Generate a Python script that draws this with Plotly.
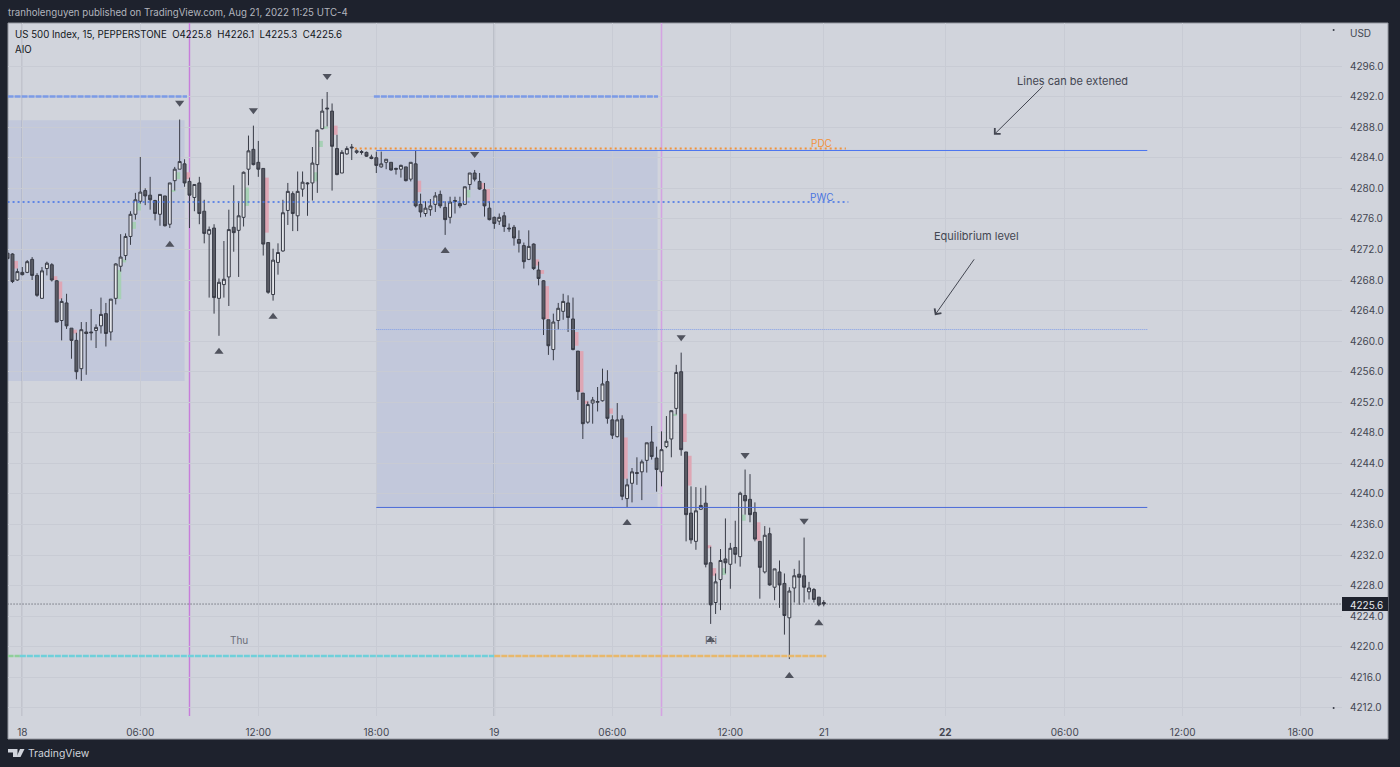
import plotly.graph_objects as go

# 15 minute bars, index 0 is the "18" tick
bar_index = list(range(-3, 164))

opens = [
    4271.5, 4271.4, 4268.0, 4269.0, 4269.0, 4270.7, 4268.6, 4265.6, 4269.5, 4270.0,
    4267.9, 4262.7, 4265.0, 4261.7, 4260.1, 4256.4, 4261.2, 4261.2, 4261.4, 4262.0,
    4263.6, 4261.2, 4265.6, 4269.8, 4271.2, 4273.7, 4276.6, 4278.3, 4279.7, 4279.1,
    4278.4, 4276.6, 4279.0, 4275.3, 4281.0, 4282.5, 4283.2, 4280.9, 4278.8, 4280.7,
    4277.0, 4274.0, 4274.8, 4265.6, 4267.4, 4268.4, 4274.9, 4274.5, 4276.2, 4282.5,
    4285.1, 4283.4, 4282.6, 4272.9, 4266.1, 4270.3, 4271.8, 4277.1, 4279.3, 4276.4,
    4279.9, 4280.7, 4280.7, 4283.1, 4287.8, 4290.5, 4290.1, 4285.2, 4282.0, 4284.5,
    4285.4, 4284.7, 4284.8, 4284.7, 4284.1, 4284.0, 4282.8, 4283.4, 4283.4, 4282.6,
    4282.5, 4282.8, 4281.2, 4283.2, 4277.9, 4276.7, 4277.2, 4277.9, 4279.2, 4277.5,
    4276.2, 4278.4, 4278.0, 4277.9, 4280.5, 4282.0, 4280.9, 4279.8, 4277.4, 4276.2,
    4275.7, 4276.4, 4274.8, 4274.9, 4273.3, 4272.5, 4270.7, 4272.7, 4269.3, 4267.9,
    4262.8, 4258.9, 4262.7, 4263.9, 4265.0, 4262.9, 4258.7, 4253.2, 4249.4, 4251.9,
    4252.0, 4252.2, 4254.7, 4249.7, 4247.5, 4249.8, 4239.4, 4241.4, 4242.8, 4242.9,
    4244.4, 4246.8, 4244.7, 4242.9, 4246.2, 4247.2, 4251.2, 4256.0, 4245.5, 4237.5,
    4233.8, 4238.0, 4238.8, 4231.0, 4225.8, 4228.8, 4231.5, 4230.8, 4233.0, 4231.8,
    4239.8, 4239.3, 4237.6, 4233.8, 4229.8, 4234.8, 4227.8, 4229.8, 4228.3, 4223.8,
    4227.7, 4229.5, 4229.3, 4227.2, 4227.5, 4226.5, 4225.8,
]
highs = [
    4271.6, 4271.5, 4269.5, 4269.7, 4270.6, 4271.0, 4268.9, 4269.7, 4270.4, 4270.2,
    4268.0, 4265.6, 4266.2, 4261.7, 4261.1, 4262.5, 4262.5, 4264.2, 4262.2, 4265.7,
    4265.0, 4265.5, 4270.2, 4274.0, 4274.1, 4277.0, 4279.4, 4284.1, 4280.0, 4281.5,
    4278.5, 4279.2, 4279.0, 4280.7, 4282.8, 4289.0, 4283.8, 4281.4, 4280.5, 4281.5,
    4278.5, 4275.0, 4275.3, 4268.2, 4273.1, 4277.2, 4280.4, 4278.3, 4282.2, 4286.9,
    4288.2, 4286.2, 4282.6, 4272.9, 4272.1, 4272.8, 4278.5, 4280.7, 4279.6, 4282.2,
    4282.2, 4280.8, 4285.4, 4287.7, 4291.7, 4292.6, 4291.1, 4287.0, 4285.0, 4285.5,
    4285.8, 4285.1, 4285.0, 4284.8, 4284.4, 4284.8, 4284.8, 4283.8, 4283.4, 4282.7,
    4283.1, 4282.8, 4283.4, 4284.9, 4279.3, 4278.3, 4278.6, 4279.5, 4279.7, 4278.3,
    4278.9, 4278.9, 4278.9, 4280.2, 4282.0, 4282.4, 4282.0, 4280.7, 4278.3, 4276.3,
    4276.7, 4276.9, 4275.4, 4275.2, 4274.5, 4272.9, 4274.5, 4272.8, 4270.4, 4268.0,
    4262.8, 4263.6, 4265.0, 4266.2, 4266.0, 4265.7, 4258.7, 4253.2, 4252.1, 4252.7,
    4254.0, 4256.4, 4256.2, 4250.3, 4251.9, 4250.3, 4242.0, 4243.4, 4244.8, 4244.5,
    4246.7, 4248.9, 4246.2, 4248.2, 4250.2, 4250.9, 4256.9, 4258.5, 4245.5, 4241.0,
    4240.9, 4240.8, 4241.1, 4233.1, 4229.6, 4232.8, 4236.8, 4233.6, 4236.5, 4240.3,
    4243.2, 4242.6, 4238.9, 4233.8, 4235.8, 4235.6, 4230.2, 4231.3, 4229.6, 4227.8,
    4230.2, 4231.3, 4234.3, 4228.5, 4227.7, 4226.5, 4226.1,
]
lows = [
    4270.7, 4267.6, 4267.9, 4268.6, 4268.9, 4268.0, 4265.8, 4265.6, 4268.6, 4267.8,
    4262.5, 4260.1, 4261.6, 4257.7, 4255.0, 4254.8, 4255.6, 4260.1, 4259.1, 4261.0,
    4259.3, 4260.1, 4264.8, 4269.1, 4270.6, 4272.6, 4275.9, 4278.0, 4277.8, 4277.2,
    4275.8, 4275.1, 4275.0, 4274.8, 4279.7, 4282.5, 4280.2, 4274.8, 4277.0, 4275.3,
    4272.8, 4265.7, 4263.6, 4260.7, 4265.7, 4264.6, 4271.7, 4268.4, 4275.0, 4280.4,
    4283.0, 4281.5, 4271.2, 4266.2, 4265.3, 4268.7, 4271.7, 4275.2, 4274.4, 4274.4,
    4278.9, 4276.4, 4278.4, 4279.4, 4287.7, 4288.1, 4279.7, 4281.7, 4282.0, 4284.4,
    4283.7, 4284.5, 4284.4, 4284.1, 4283.8, 4282.0, 4282.7, 4282.5, 4282.3, 4281.8,
    4281.4, 4280.9, 4280.9, 4277.5, 4276.2, 4276.3, 4276.4, 4276.9, 4277.4, 4273.9,
    4275.4, 4276.7, 4277.4, 4277.8, 4279.8, 4280.9, 4279.8, 4276.3, 4275.8, 4274.7,
    4275.2, 4274.3, 4274.3, 4272.5, 4271.6, 4269.5, 4270.6, 4269.3, 4267.3, 4260.8,
    4258.2, 4257.5, 4261.5, 4262.8, 4261.2, 4258.8, 4252.3, 4247.2, 4249.2, 4249.2,
    4250.8, 4252.1, 4249.2, 4247.2, 4247.4, 4239.2, 4238.3, 4238.9, 4241.2, 4239.2,
    4242.8, 4244.5, 4240.3, 4241.0, 4246.0, 4244.8, 4250.4, 4245.0, 4233.8, 4233.5,
    4232.7, 4237.9, 4230.4, 4223.0, 4224.3, 4224.8, 4229.6, 4227.6, 4230.9, 4230.5,
    4237.3, 4236.3, 4233.8, 4226.3, 4229.6, 4228.0, 4226.1, 4225.1, 4221.6, 4218.4,
    4225.8, 4225.5, 4225.8, 4226.2, 4225.8, 4225.3, 4225.3,
]
closes = [
    4270.8, 4267.8, 4269.1, 4268.7, 4270.4, 4268.6, 4266.0, 4269.2, 4270.2, 4268.0,
    4262.5, 4265.2, 4262.0, 4260.1, 4256.0, 4261.5, 4261.0, 4261.1, 4261.8, 4263.5,
    4261.0, 4265.5, 4270.1, 4271.0, 4273.7, 4276.6, 4278.5, 4279.5, 4279.0, 4278.5,
    4276.7, 4279.2, 4275.1, 4280.7, 4282.5, 4283.5, 4280.7, 4279.1, 4280.5, 4276.7,
    4274.1, 4274.6, 4265.7, 4267.7, 4268.1, 4274.6, 4274.2, 4276.4, 4282.1, 4284.9,
    4283.1, 4282.5, 4272.7, 4266.4, 4270.6, 4271.6, 4276.8, 4279.6, 4276.7, 4279.6,
    4280.8, 4280.6, 4283.3, 4287.6, 4290.1, 4290.4, 4285.5, 4281.8, 4284.7, 4285.2,
    4285.3, 4284.9, 4284.7, 4284.2, 4283.9, 4283.0, 4283.2, 4283.8, 4282.4, 4282.5,
    4283.0, 4281.0, 4283.4, 4277.7, 4276.9, 4277.4, 4277.7, 4279.0, 4277.7, 4275.9,
    4278.2, 4278.3, 4277.7, 4280.2, 4282.0, 4281.2, 4279.9, 4277.7, 4275.9, 4275.4,
    4276.2, 4275.0, 4274.7, 4273.5, 4272.8, 4270.4, 4272.4, 4269.5, 4268.2, 4262.9,
    4259.4, 4262.5, 4264.3, 4265.2, 4263.1, 4258.9, 4253.4, 4249.2, 4251.7, 4252.3,
    4252.1, 4254.4, 4249.9, 4247.7, 4249.7, 4239.7, 4241.2, 4242.9, 4242.7, 4244.2,
    4246.7, 4244.9, 4243.2, 4245.8, 4246.9, 4250.9, 4255.9, 4245.8, 4237.3, 4234.0,
    4237.8, 4238.5, 4230.8, 4225.5, 4228.5, 4231.3, 4231.0, 4232.9, 4232.1, 4240.1,
    4239.1, 4237.3, 4234.1, 4230.4, 4234.6, 4228.1, 4230.2, 4228.1, 4224.1, 4227.3,
    4229.3, 4229.1, 4227.8, 4227.7, 4226.2, 4225.5, 4225.6,
]

# imbalance blocks next to the candles
pink_start = [-2, 6, 7, 10, 33, 49, 63, 80, 93, 94, 104, 105, 106, 112, 113, 114, 119, 122, 134, 135, 139, 140, 149]
pink_low = [4269.5, 4268.0, 4265.5, 4261.0, 4281.2, 4274.2, 4287.0, 4279.5, 4279.9, 4278.3, 4269.9, 4268.8, 4262.9,
            4259.4, 4253.3, 4251.8, 4250.5, 4242.0, 4246.8, 4241.1, 4232.9, 4229.3, 4233.9]
pink_high = [4270.5, 4268.5, 4267.8, 4261.5, 4282.1, 4281.4, 4288.2, 4281.0, 4280.7, 4279.9, 4270.7, 4269.3, 4267.2,
             4261.2, 4258.7, 4252.2, 4251.2, 4247.4, 4250.5, 4245.0, 4233.3, 4230.3, 4236.3]
green_start = [19, 20, 22, 23, 30, 31, 45, 59, 60, 61, 90, 132, 142, 146]
green_low = [4265.5, 4270.3, 4274.7, 4277.1, 4279.6, 4281.2, 4277.7, 4280.9, 4285.4, 4287.8, 4278.8, 4250.2, 4229.4, 4236.5]
green_high = [4269.3, 4270.7, 4275.6, 4278.1, 4279.8, 4282.1, 4280.1, 4282.1, 4286.2, 4288.1, 4279.8, 4250.5, 4230.3, 4237.3]

# pivot triangles
down_x = [32, 47, 62, 92, 134, 147, 159]
down_y = [4291.2, 4290.2, 4294.7, 4284.5, 4260.5, 4245.1, 4236.5]
up_x = [30, 40, 51, 86, 123, 140, 156, 162]
up_y = [4272.6, 4258.6, 4263.2, 4271.8, 4236.2, 4220.9, 4216.2, 4223.1]

x_tickvals = [0, 24, 48, 72, 96, 120, 144, 163, 187.7, 212, 236, 260]
x_ticktext = ["18", "06:00", "12:00", "18:00", "19", "06:00", "12:00", "21", "<b>22</b>", "06:00", "12:00", "18:00"]
y_tickvals = list(range(4212, 4297, 4))

LAST_PRICE = 4225.6
DARK = "#1e222d"
PANEL = "#d1d4dc"
INK = "#383b46"
FONT = "Inter, Roboto, sans-serif"


def px_x(v):
    return v / 1400


def px_y(v):
    return 1 - v / 767


def add_level(fig, x0, x1, price, color, width=1.0, dash="solid"):
    fig.add_trace(go.Scatter(x=[x0, x1], y=[price, price], mode="lines",
                             line=dict(color=color, width=width, dash=dash), hoverinfo="skip"))


def add_blocks(fig, start, low, high, color):
    fig.add_trace(go.Bar(x=[s + 0.7 for s in start], base=low, y=[h - l for h, l in zip(high, low)],
                         width=0.85, marker=dict(color=color, line=dict(width=0)), hoverinfo="skip"))


def add_text(fig, x, y, text, color, size, xanchor="center", paper=False):
    fig.add_annotation(x=x, y=y, text=text, showarrow=False, xanchor=xanchor, yanchor="middle",
                       xref="paper" if paper else "x", yref="paper" if paper else "y",
                       font=dict(color=color, size=size, family=FONT))


fig = go.Figure()

# chart panel and logo
fig.add_shape(type="rect", xref="paper", yref="paper", x0=px_x(8), x1=px_x(1388), y0=px_y(739), y1=px_y(23),
              fillcolor=PANEL, line=dict(color="#9598a1", width=1), layer="below")
logo_t = "M {} {} L {} {} L {} {} L {} {} L {} {} L {} {} Z".format(
    px_x(8), px_y(749), px_x(17.5), px_y(749), px_x(17.5), px_y(757), px_x(13), px_y(757), px_x(13), px_y(752.5),
    px_x(8), px_y(752.5))
logo_v = "M {} {} L {} {} L {} {} L {} {} Z".format(
    px_x(20), px_y(749), px_x(24.5), px_y(749), px_x(20.5), px_y(757), px_x(16.5), px_y(757))
for path in (logo_t, logo_v):
    fig.add_shape(type="path", xref="paper", yref="paper", path=path, fillcolor="#d1d4dc", line=dict(width=0))

# range boxes
fig.add_shape(type="rect", x0=-3, x1=33, y0=4254.8, y1=4288.9, fillcolor="rgba(70,105,215,0.11)",
              line=dict(width=0), layer="below")
fig.add_shape(type="rect", x0=72, x1=129.2, y0=4238.3, y1=4285.0, fillcolor="rgba(70,105,215,0.11)",
              line=dict(width=0), layer="below")

# session lines
for x_pos, color, width in [(0, "#85888f", 1), (34, "#c77ddb", 1.4), (96, "#a2a5ae", 1.5), (130, "#d4a3e2", 1.6)]:
    fig.add_shape(type="line", x0=x_pos, x1=x_pos, yref="y domain", y0=0, y1=1,
                  line=dict(color=color, width=width), layer="below")

# levels
add_level(fig, -3, 33.5, 4292.0, "#7c9be6", 2.5, "6px,1px")
add_level(fig, 71.5, 129.3, 4292.0, "#7c9be6", 2.5, "6px,1px")
add_level(fig, 67.6, 167.5, 4285.2, "#f2923a", 2, "2px,3px")
add_level(fig, 72, 228.8, 4284.95, "#4a74f0", 1)
add_level(fig, -3, 168, 4278.2, "#4070e8", 1.6, "2px,3px")
add_level(fig, 72, 228.8, 4261.52, "#7f9ce8", 1, "1px,1px")
add_level(fig, 72, 228.8, 4238.24, "#4a6ad8", 1)
add_level(fig, -3, 268.4, LAST_PRICE, "#434651", 1, "1px,2px")
add_level(fig, -3, -0.5, 4218.8, "#8fcf9a", 2.5, "6px,1px")
add_level(fig, -0.5, 96, 4218.8, "#6fd0da", 2.5, "6px,1px")
add_level(fig, 96, 163.5, 4218.8, "#e8b86c", 2.5, "6px,1px")

add_blocks(fig, pink_start, pink_low, pink_high, "#dea6b4")
add_blocks(fig, green_start, green_low, green_high, "#a7d0b6")

fig.add_trace(go.Candlestick(
    x=bar_index, open=opens, high=highs, low=lows, close=closes, whiskerwidth=0,
    increasing=dict(line=dict(color=INK, width=1), fillcolor="#e4e6ea"),
    decreasing=dict(line=dict(color=INK, width=1), fillcolor="#5a5c65"),
    hoverinfo="skip",
))

fig.add_trace(go.Scatter(x=down_x, y=down_y, mode="markers", hoverinfo="skip",
                         marker=dict(symbol="triangle-down", size=8, color="#50535e")))
fig.add_trace(go.Scatter(x=up_x, y=up_y, mode="markers", hoverinfo="skip",
                         marker=dict(symbol="triangle-up", size=8, color="#50535e")))
fig.add_trace(go.Scatter(x=[266.7, 266.7], y=[4212.0, 4300.7], mode="markers", hoverinfo="skip",
                         marker=dict(size=2, color=INK)))

# labels on the chart
add_text(fig, 162.6, 4285.9, "PDC", "#f2923a", 10)
add_text(fig, 162.6, 4278.9, "PWC", "#4a74e0", 10)
add_text(fig, 44, 4220.9, "Thu", "#6a6d78", 10)
add_text(fig, 140, 4220.9, "Fri", "#6a6d78", 10)
add_text(fig, 213.5, 4294.0, "Lines can be extened", "#434651", 11)
add_text(fig, 194, 4273.8, "Equilibrium level", "#434651", 11)
for tip_x, tip_y, tail_x, tail_y in [(197.6, 4287.0, 207.8, 4293.5), (185.6, 4263.4, 193.8, 4270.9)]:
    fig.add_annotation(x=tip_x, y=tip_y, ax=tail_x, ay=tail_y, axref="x", ayref="y", text="", showarrow=True,
                       arrowhead=4, arrowsize=1.6, arrowwidth=1, arrowcolor="#434651")

# header, footer and axis label
add_text(fig, px_x(6), px_y(13), "tranholenguyen published on TradingView.com, Aug 21, 2022 11:25 UTC-4",
         "#b2b5be", 9.7, "left", True)
add_text(fig, px_x(13), px_y(35), "US 500 Index, 15, PEPPERSTONE&nbsp;&nbsp;O4225.8&nbsp;&nbsp;H4226.1&nbsp;&nbsp;L4225.3&nbsp;&nbsp;C4225.6",
         "#131722", 9.7, "left", True)
add_text(fig, px_x(13), px_y(49), "AIO", "#131722", 9.7, "left", True)
add_text(fig, px_x(25.5), px_y(753), "TradingView", "#d1d4dc", 10.4, "left", True)
add_text(fig, px_x(1348), px_y(33), "USD", "#434651", 10, "left", True)

# last price tag
fig.add_shape(type="rect", xref="paper", yref="paper", x0=px_x(1342), x1=px_x(1388), y0=px_y(611), y1=px_y(597),
              fillcolor=DARK, line=dict(color=DARK, width=0))
add_text(fig, px_x(1348), px_y(604.5), f"{LAST_PRICE:.1f}", "#e6e8ed", 10, "left", True)

fig.update_layout(
    width=1400, height=767, autosize=False, showlegend=False, barmode="overlay", boxgap=0.15,
    paper_bgcolor=DARK, plot_bgcolor=PANEL, margin=dict(l=0, r=0, t=0, b=0),
    font=dict(family=FONT, size=10, color="#434651"),
    xaxis=dict(domain=[px_x(8), px_x(1342)], range=[-2.91, 268.4], rangeslider=dict(visible=False),
               tickmode="array", tickvals=x_tickvals, ticktext=x_ticktext, showgrid=True, gridcolor="#c8cbd4",
               gridwidth=1, zeroline=False, ticks="outside", ticklen=7, tickcolor="rgba(0,0,0,0)", showline=False,
               tickfont=dict(color="#434651", size=10, family=FONT)),
    yaxis=dict(domain=[px_y(716), px_y(23)], range=[4210.95, 4301.63], side="right", tickmode="array",
               tickvals=y_tickvals, ticktext=[f"{v:.1f}" for v in y_tickvals], showgrid=True, gridcolor="#c8cbd4",
               gridwidth=1, zeroline=False, ticks="outside", ticklen=5, tickcolor="rgba(0,0,0,0)", showline=False,
               tickfont=dict(color="#434651", size=10, family=FONT)),
)

fig.write_html("out.html", config=dict(displayModeBar=False),
               post_script="document.body.style.margin='0';document.body.style.overflow='hidden';")
